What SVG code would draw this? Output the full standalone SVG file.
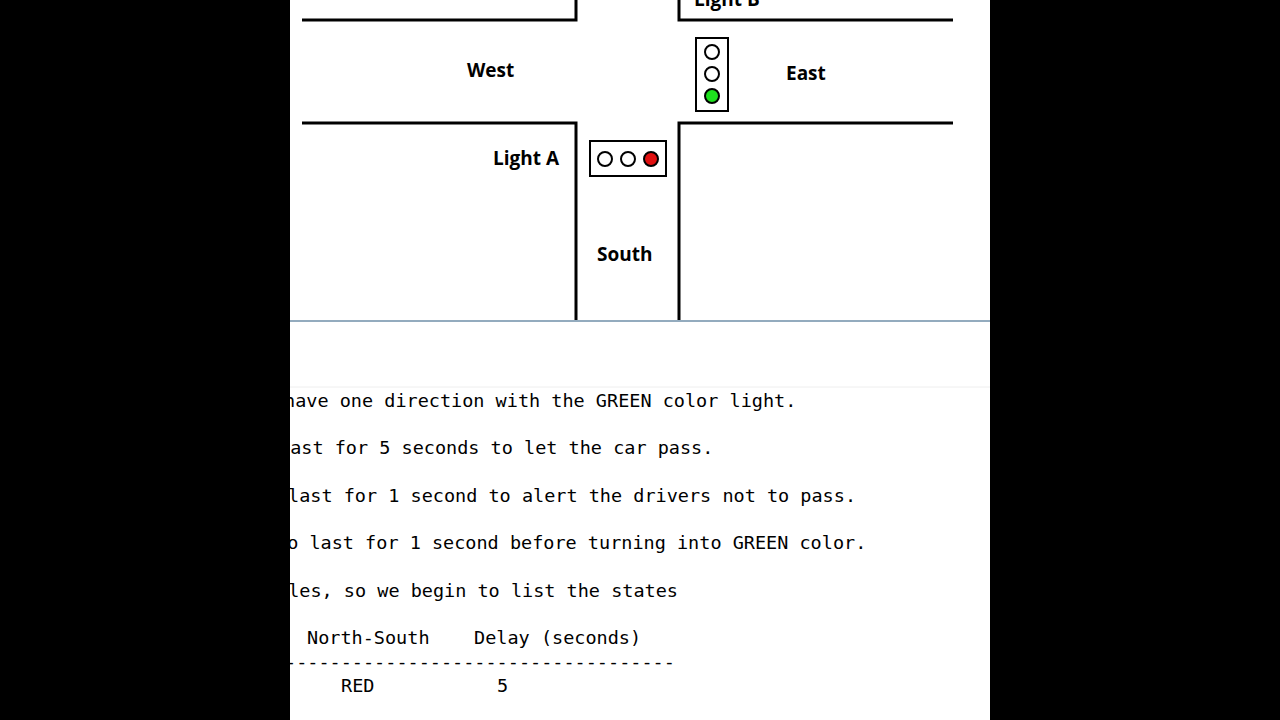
<svg xmlns="http://www.w3.org/2000/svg" width="1280" height="720" viewBox="0 0 1280 720">
<style>
.road{stroke:#000;stroke-width:3;fill:none}
.lbl{font-family:"Open Sans","Liberation Sans",sans-serif;font-weight:bold;font-size:19px;fill:#000}
.mono{font-family:"DejaVu Sans Mono","Liberation Mono",monospace;font-size:18.5px;fill:#000;white-space:pre}
.lamp{stroke:#000;stroke-width:2}
</style>
<defs><clipPath id="c"><rect x="290" y="0" width="700" height="720"/></clipPath></defs>
<rect width="1280" height="720" fill="#000"/>
<rect x="290" y="0" width="700" height="720" fill="#fff"/>
<g clip-path="url(#c)">
<g id="roads">
<path class="road" d="M302 20H576V0M679 0V20H953M302 123H576V320M679 320V123H953"/>
</g>
<g id="labels">
<text class="lbl" x="694" y="6">Light B</text>
<text class="lbl" x="467" y="77">West</text>
<text class="lbl" x="786" y="80">East</text>
<text class="lbl" x="493" y="165">Light A</text>
<text class="lbl" x="597" y="261">South</text>
</g>
<g id="lightB">
<rect x="696" y="38" width="32" height="73" fill="#fff" stroke="#000" stroke-width="2"/>
<circle class="lamp" cx="712" cy="52" r="7" fill="#fff"/>
<circle class="lamp" cx="712" cy="74" r="7" fill="#fff"/>
<circle class="lamp" cx="712" cy="96" r="7" fill="#1ee01e"/>
</g>
<g id="lightA">
<rect x="590" y="141" width="76" height="35" fill="#fff" stroke="#000" stroke-width="2"/>
<circle class="lamp" cx="605" cy="159" r="7" fill="#fff"/>
<circle class="lamp" cx="628" cy="159" r="7" fill="#fff"/>
<circle class="lamp" cx="651" cy="159" r="7" fill="#e01010"/>
</g>
<line x1="290" y1="321" x2="990" y2="321" stroke="#6f8fa8" stroke-width="1.5"/>
<line x1="290" y1="387" x2="990" y2="387" stroke="#eeeeee" stroke-width="1"/>
<g id="text">
<text class="mono" x="284" y="407">have one direction with the GREEN color light.</text>
<text class="mono" x="279" y="454">last for 5 seconds to let the car pass.</text>
<text class="mono" x="288" y="502">last for 1 second to alert the drivers not to pass.</text>
<text class="mono" x="276" y="549">to last for 1 second before turning into GREEN color.</text>
<text class="mono" x="277" y="597">ules, so we begin to list the states</text>
<text class="mono" x="307" y="644" xml:space="preserve">North-South    Delay (seconds)</text>
<text class="mono" x="285" y="668">-----------------------------------</text>
<text class="mono" x="341" y="692" xml:space="preserve">RED           5</text>
</g>
</g>
</svg>
